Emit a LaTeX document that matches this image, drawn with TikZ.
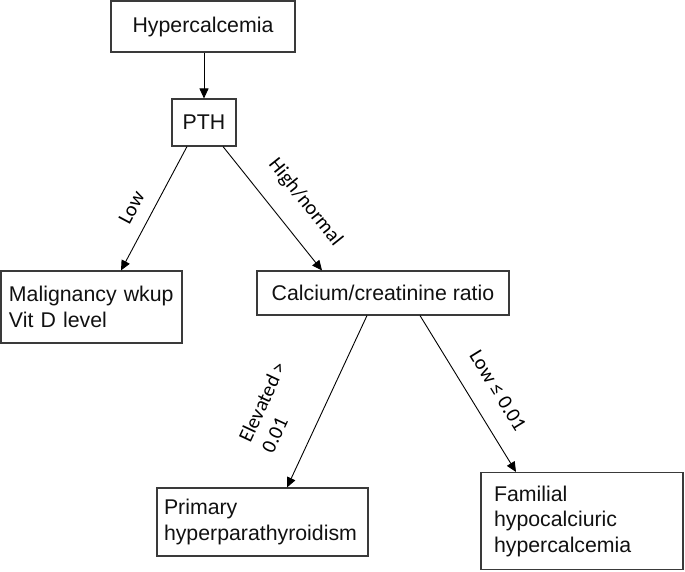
\documentclass[tikz,border=0pt]{standalone}
\usepackage{fontspec}
\setmainfont{Liberation Sans}
\newfontfamily\labfont{Carlito}
\usetikzlibrary{arrows.meta,calc}
\definecolor{boxgray}{HTML}{3A3A3A}
\definecolor{txt}{HTML}{111111}
\begin{document}
\begin{tikzpicture}[x=1pt,y=-1pt,
  box/.style={draw=boxgray, line width=1.1pt, inner ysep=0pt, font=\fontsize{21.3}{25.5}\selectfont, text=txt},
  cbox/.style={box, align=center, inner xsep=0pt},
  lbox/.style={box, align=left},
  arr/.style={draw=black, line width=0.9pt, -{Triangle[length=10pt,width=9pt]}},
  lab/.style={font=\labfont\fontsize{20.5}{25}\selectfont, text=black, sloped, inner sep=0pt, align=left}]
\useasboundingbox (0,0) rectangle (685,571);
\fill[white] (0,0) rectangle (685,571);

\node[cbox, minimum width=184pt, minimum height=51pt] (hyp) at (203,26.5) {Hypercalcemia};
\node[cbox, minimum width=64pt, minimum height=47pt] (pth) at (204,122.5) {PTH};
\node[lbox, text width=165pt, inner xsep=8pt, minimum height=72pt] (mal) at (91.5,307) {Malignancy wkup\\Vit D level};
\node[cbox, minimum width=252pt, minimum height=44pt] (cal) at (383,293) {Calcium/creatinine ratio};
\node[lbox, text width=197pt, inner xsep=7pt, minimum height=68pt] (pri) at (262.5,522) {Primary\\hyperparathyroidism};
\node[lbox, text width=176pt, inner xsep=13pt, minimum height=97pt] (fam) at (582,521) {Familial\\hypocalciuric\\hypercalcemia};

\draw[arr] (hyp.south -| pth.north) -- (pth.north);
\draw[arr] ($(pth.south)+(-17,0)$) -- node[lab, pos=0.57, above=13pt] (l1) {Low} ($(mal.north)+(29.5,0)$);
\draw[arr] ($(pth.south)+(19,0)$) -- node[lab, pos=0.6, above=20pt] (l2) {High/normal} ($(cal.north)+(-61,0)$);
\draw[arr] ($(cal.south)+(-16,0)$) -- node[lab, pos=0.645, above=26pt] (l3) {Elevated >\\0.01} ($(pri.north)+(24.5,0)$);
\draw[arr] ($(cal.south)+(37,0)$) -- node[lab, pos=0.57, above=20pt] (l4) {Low ≤ 0.01} ($(fam.north)+(-66,0)$);
\end{tikzpicture}
\end{document}
